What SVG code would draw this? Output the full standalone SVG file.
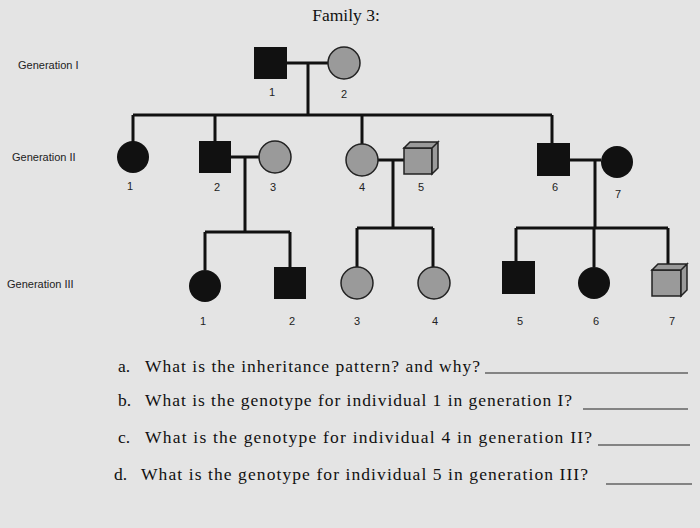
<svg xmlns="http://www.w3.org/2000/svg" width="700" height="528" viewBox="0 0 700 528">
<style>
.l{stroke:#111;stroke-width:3;fill:none}
.b{fill:#111}
.g{fill:#9a9a9a;stroke:#222;stroke-width:1.5}
.s{font-family:"Liberation Sans",Arial,sans-serif;font-size:11px;fill:#222}
.n{font-family:"Liberation Sans",Arial,sans-serif;font-size:11px;fill:#222;text-anchor:middle}
.q{font-family:"Liberation Serif","Times New Roman",serif;font-size:17.5px;fill:#111}
.u{stroke:#222;stroke-width:1}
</style>
<rect width="700" height="528" fill="#e4e4e4"/>
<text x="346" y="21" class="q" text-anchor="middle" font-size="18">Family 3:</text>
<text x="18" y="69" class="s">Generation I</text>
<text x="12" y="161" class="s">Generation II</text>
<text x="7" y="288" class="s">Generation III</text>
<g id="connectors">
<path class="l" d="M286 63H328M308 63V115M133 115H552M133 115V142M215 115V141M362 115V144M552 115V143"/>
<path class="l" d="M231 157H259M245 157V232M205 232H290M205 232V270M290 232V267M378 160H404M393 160V228M357 228H433M357 228V267M433 228V267M570 160H601M595 160V228M516 228H668M516 228V261M594 228V267M668 228V264"/>
</g>
<g id="I-1"><rect x="254" y="47" width="33" height="32" class="b"/><text x="272" y="96" class="n">1</text></g>
<g id="I-2"><circle cx="344" cy="63" r="16" class="g"/><text x="344" y="98" class="n">2</text></g>
<g id="II-1"><circle cx="133" cy="157" r="16" class="b"/><text x="130" y="190" class="n">1</text></g>
<g id="II-2"><rect x="199" y="141" width="32" height="32" class="b"/><text x="217" y="191" class="n">2</text></g>
<g id="II-3"><circle cx="275" cy="157" r="16" class="g"/><text x="273" y="191" class="n">3</text></g>
<g id="II-4"><circle cx="362" cy="160" r="16" class="g"/><text x="362" y="191" class="n">4</text></g>
<g id="II-5"><rect x="404" y="148" width="28" height="26" class="g"/><path d="M404 148l6-6h28l-6 6zM432 148l6-6v26l-6 6z" class="g"/><text x="421" y="191" class="n">5</text></g>
<g id="II-6"><rect x="537" y="143" width="33" height="33" class="b"/><text x="555" y="191" class="n">6</text></g>
<g id="II-7"><circle cx="617" cy="162" r="16" class="b"/><text x="618" y="198" class="n">7</text></g>
<g id="III-1"><circle cx="205" cy="286" r="16" class="b"/><text x="203" y="325" class="n">1</text></g>
<g id="III-2"><rect x="274" y="267" width="32" height="32" class="b"/><text x="292" y="325" class="n">2</text></g>
<g id="III-3"><circle cx="357" cy="283" r="16" class="g"/><text x="357" y="325" class="n">3</text></g>
<g id="III-4"><circle cx="434" cy="283" r="16" class="g"/><text x="435" y="325" class="n">4</text></g>
<g id="III-5"><rect x="502" y="261" width="33" height="33" class="b"/><text x="520" y="325" class="n">5</text></g>
<g id="III-6"><circle cx="594" cy="283" r="16" class="b"/><text x="596" y="325" class="n">6</text></g>
<g id="III-7"><rect x="652" y="270" width="29" height="26" class="g"/><path d="M652 270l6-6h29l-6 6zM681 270l6-6v26l-6 6z" class="g"/><text x="672" y="325" class="n">7</text></g>
<g id="questions">
<text x="118" y="372" class="q">a.</text><text x="145" y="372" class="q" textLength="335" lengthAdjust="spacing">What is the inheritance pattern? and why?</text><line x1="485" y1="373" x2="688" y2="373" class="u"/>
<text x="118" y="406" class="q">b.</text><text x="145" y="406" class="q" textLength="427" lengthAdjust="spacing">What is the genotype for individual 1 in generation I?</text><line x1="583" y1="409" x2="688" y2="409" class="u"/>
<text x="118" y="443" class="q">c.</text><text x="145" y="443" class="q" textLength="447" lengthAdjust="spacing">What is the genotype for individual 4 in generation II?</text><line x1="598" y1="445" x2="690" y2="445" class="u"/>
<text x="114" y="480" class="q">d.</text><text x="141" y="480" class="q" textLength="447" lengthAdjust="spacing">What is the genotype for individual 5 in generation III?</text><line x1="606" y1="484" x2="692" y2="484" class="u"/>
</g>
</svg>
